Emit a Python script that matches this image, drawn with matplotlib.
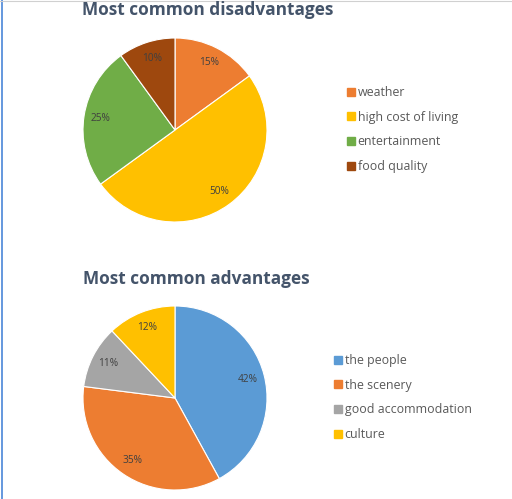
import numpy as np
import matplotlib.pyplot as plt
from matplotlib.lines import Line2D

W, H = 512, 499

dis_labels = ["weather", "high cost of living", "entertainment", "food quality"]
dis_values = [15, 50, 25, 10]
dis_colors = ["#ED7D31", "#FFC000", "#70AD47", "#9E480E"]

adv_labels = ["the people", "the scenery", "good accommodation", "culture"]
adv_values = [42, 35, 11, 12]
adv_colors = ["#5B9BD5", "#ED7D31", "#A5A5A5", "#FFC000"]

plt.rcParams['font.family'] = ['Open Sans', 'DejaVu Sans']

fig = plt.figure(figsize=(W / 100, H / 100), dpi=100)


def px_axes(cx, cy, r):
    # square axes around the pie, pixel coords from top-left
    return fig.add_axes([(cx - r) / W, 1 - (cy + r) / H, 2 * r / W, 2 * r / H])


def draw_pie(cx, cy, r, values, labels, colors, title, tx, ty, lx, ly):
    ax = px_axes(cx, cy, r)
    wedges, texts = ax.pie(values, colors=colors, startangle=90, counterclock=False,
                           radius=1, wedgeprops=dict(linewidth=0.8, edgecolor="white"))
    for w, v in zip(wedges, values):
        ang = np.deg2rad((w.theta1 + w.theta2) / 2)
        ax.text(0.82 * np.cos(ang), 0.82 * np.sin(ang), f"{v}%", ha="center", va="center",
                fontsize=7.3, color="#404040")
    ax.set_xlim(-1, 1)
    ax.set_ylim(-1, 1)
    ax.axis("off")
    fig.text(tx / W, 1 - ty / H, title, fontsize=12.4, fontweight="bold", color="#44546A",
             ha="left", va="baseline")
    handles = [Line2D([], [], marker="s", linestyle="none", markersize=5.5,
                      markerfacecolor=c, markeredgecolor=c) for c in colors]
    fig.legend(handles, labels, loc="upper left", bbox_to_anchor=(lx / W, 1 - ly / H),
               frameon=False, fontsize=8.9, labelcolor="#595959", handlelength=0.7,
               handletextpad=0.15, labelspacing=0.95, borderpad=0, borderaxespad=0)


draw_pie(175, 130, 92, dis_values, dis_labels, dis_colors,
         "Most common disadvantages", 82, 15, 347, 86)
draw_pie(175, 398, 92, adv_values, adv_labels, adv_colors,
         "Most common advantages", 83, 284, 334, 354)

# selection frame left edge
fig.add_artist(Line2D([1.5 / W, 1.5 / W], [0, 1], color="#4A86D8", linewidth=1.2))
fig.add_artist(Line2D([0, 1], [1 - 0.5 / H, 1 - 0.5 / H], color="#D0D0D0", linewidth=0.8))

fig.savefig("out.png", dpi=100)
